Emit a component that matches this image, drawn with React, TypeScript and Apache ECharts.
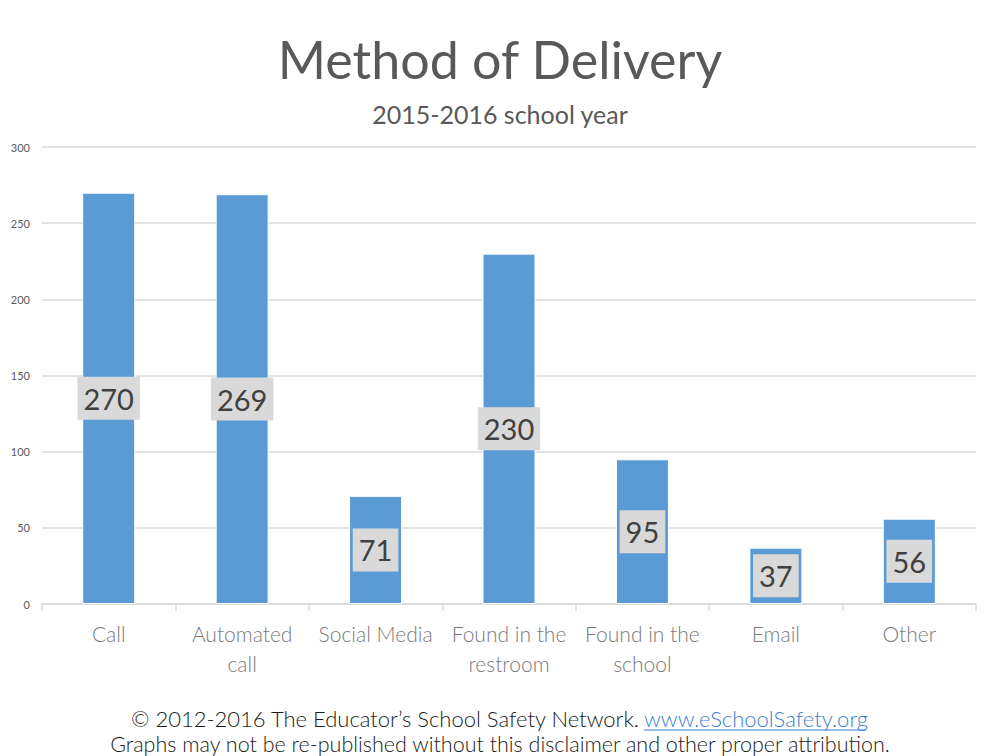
import React, { useEffect, useRef } from "react";
import * as echarts from "echarts";

const categories = ["Call", "Automated\ncall", "Social Media", "Found in the\nrestroom", "Found in the\nschool", "Email", "Other"];
const values = [270, 269, 71, 230, 95, 37, 56];
const yTicks = { min: 0, max: 300, interval: 50 };
const titleText = "Method of Delivery";
const subtitleText = "2015-2016 school year";
const footerLeft = "© 2012-2016 The Educator’s School Safety Network.";
const footerLink = "www.eSchoolSafety.org";
const footerLine2 = "Graphs may not be re-published without this disclaimer and other proper attribution.";

export default function App() {
  const ref = useRef<HTMLDivElement>(null);
  useEffect(() => {
    if (!ref.current) return;
    const chart = echarts.init(ref.current, null, { renderer: "svg" });
    const font = "Lato, 'Open Sans', sans-serif";
    chart.setOption({
      animation: false,
      backgroundColor: "#ffffff",
      title: [
        {
          text: titleText,
          left: "center",
          top: 28,
          textStyle: { fontFamily: font, fontSize: 52, fontWeight: 400, color: "#595959" },
        },
        {
          text: subtitleText,
          left: "center",
          top: 96,
          textStyle: { fontFamily: font, fontSize: 25, fontWeight: 400, color: "#595959" },
        },
      ],
      grid: { left: 42, right: 24, top: 147, bottom: 152, containLabel: false },
      xAxis: {
        type: "category",
        data: categories,
        axisLine: { lineStyle: { color: "#d9d9d9", width: 1.5 } },
        axisTick: { show: true, length: 7, lineStyle: { color: "#d9d9d9", width: 1.5 } },
        axisLabel: {
          interval: 0,
          margin: 14,
          fontFamily: font,
          fontSize: 21,
          fontWeight: 300,
          color: "#7a7a7a",
          lineHeight: 30,
        },
      },
      yAxis: {
        type: "value",
        min: yTicks.min,
        max: yTicks.max,
        interval: yTicks.interval,
        axisLine: { show: false },
        axisTick: { show: false },
        splitLine: { lineStyle: { color: "#d9d9d9", width: 1.5 } },
        axisLabel: { fontFamily: font, fontSize: 11, color: "#595959", margin: 12 },
      },
      series: [
        {
          type: "bar",
          data: values,
          barWidth: 53,
          itemStyle: { color: "#5b9bd5", borderColor: "#ffffff", borderWidth: 1 },
          label: {
            show: true,
            position: "inside",
            fontFamily: font,
            fontSize: 29,
            color: "#404040",
            backgroundColor: "#d9d9d9",
            padding: [8, 6, 6, 6],
          },
        },
      ],
      graphic: [
        {
          type: "text",
          x: 639,
          y: 718,
          style: {
            text: footerLeft,
            fontFamily: font,
            fontSize: 22,
            fontWeight: 300,
            fill: "#1a1a1a",
            align: "right",
            verticalAlign: "middle",
          },
        },
        {
          type: "text",
          x: 644,
          y: 718,
          style: {
            text: footerLink,
            fontFamily: font,
            fontSize: 22,
            fontWeight: 300,
            fill: "#3c7fd1",
            align: "left",
            verticalAlign: "middle",
          },
        },
        {
          type: "line",
          shape: { x1: 644, y1: 730, x2: 866, y2: 730 },
          style: { stroke: "#3c7fd1", lineWidth: 1 },
        },
        {
          type: "text",
          x: 500,
          y: 744,
          style: {
            text: footerLine2,
            fontFamily: font,
            fontSize: 21.5,
            fontWeight: 300,
            fill: "#1a1a1a",
            align: "center",
            verticalAlign: "middle",
          },
        },
      ],
    });
    return () => chart.dispose();
  }, []);
  return <div ref={ref} style={{ position: "absolute", left: 0, top: 0, width: 1000, height: 756 }} />;
}
